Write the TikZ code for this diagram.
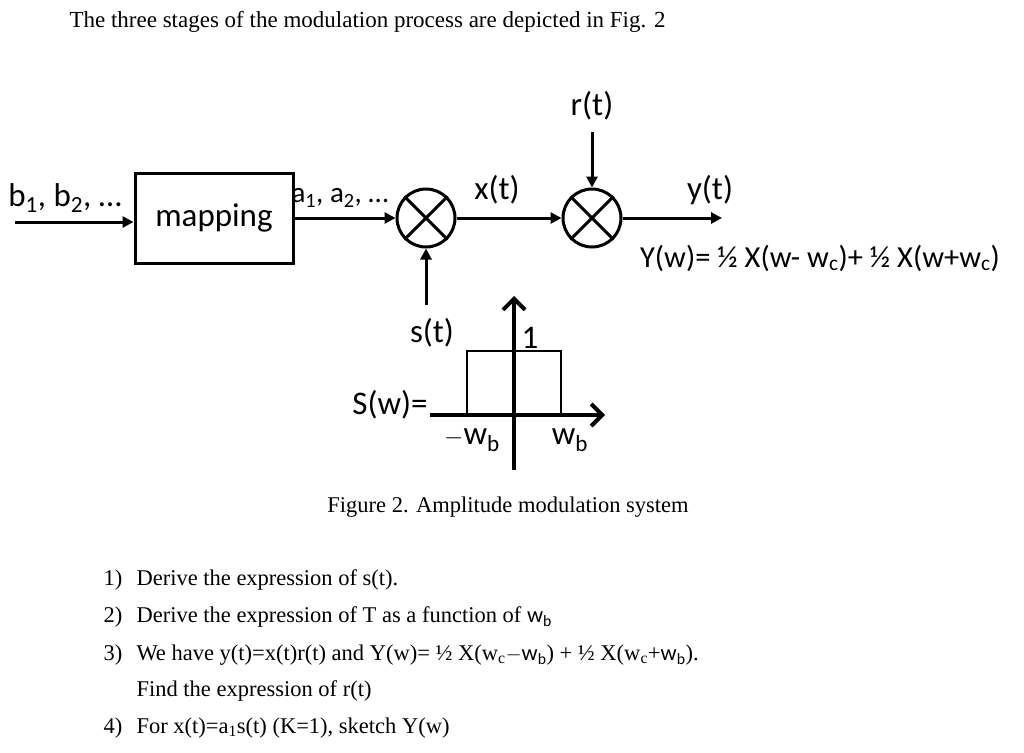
\documentclass[tikz,border=0pt]{standalone}
\usepackage{fontspec}
\setmainfont{Liberation Serif}
\newfontfamily\calfont{Carlito}
\usetikzlibrary{arrows.meta}
\newcommand{\sbs}[1]{\textsubscript{\calfont #1}}
\begin{document}
\begin{tikzpicture}[x=1pt,y=-1pt,
  sig/.style={line width=3pt,-{Triangle[length=11pt,width=11pt]}},
  lab/.style={font=\calfont\fontsize{33}{36}\selectfont},
  ser/.style={font=\fontsize{22.5}{26}\selectfont,anchor=west},
  mul/.style={circle,draw,line width=3pt,minimum size=58pt,inner sep=0pt}]
\useasboundingbox (0,0) rectangle (1024,752);
\node[ser,font=\fontsize{23}{26}\selectfont] (title) at (66,22) {The three stages of the modulation process are depicted in Fig. 2};
\coordinate (bin) at (15,222);
\node[lab] (b) at (65,198) {b\sbs{1}, b\sbs{2}, \dots};
\node[draw,line width=3pt,minimum width=158pt,minimum height=90pt,lab] (map) at (214,218) {mapping};
\node[lab,font=\calfont\fontsize{29}{32}\selectfont] (a) at (340,198) {a\sbs{1}, a\sbs{2}, \dots};
\node[mul] (m1) at (426,218) {};
\draw[line width=3pt] (m1.north east)--(m1.south west) (m1.north west)--(m1.south east);
\node[mul] (m2) at (592,218) {};
\draw[line width=3pt] (m2.north east)--(m2.south west) (m2.north west)--(m2.south east);
\draw[sig] (bin) -- (map.west|-bin);
\draw[sig] (map.east|-m1) -- (m1);
\draw[sig] (m1) -- (m2);
\node[lab] (x) at (497,190) {x(t)};
\node[lab] (r) at (592,106) {r(t)};
\coordinate (rin) at (592,132);
\draw[sig] (rin) -- (m2);
\coordinate (yout) at (722,218);
\draw[sig] (m2) -- (yout);
\node[lab] (y) at (710,190) {y(t)};
\node[lab,font=\calfont\fontsize{30.5}{34}\selectfont] (Y) at (820,258) {Y(w)= ½ X(w- w\sbs{c})+ ½ X(w+w\sbs{c})};
\coordinate (sin) at (426,305);
\draw[sig] (sin) -- (m1);
\node[lab] (s) at (432,333) {s(t)};
\node[lab] (S) at (390,405) {S(w)=};
\coordinate (h0) at (430,415); \coordinate (h1) at (605,415);
\draw[line width=4pt,-{Straight Barb[length=11pt,width=22pt]}] (h0) -- (h1);
\coordinate (v0) at (514,470); \coordinate (v1) at (514,296);
\draw[line width=4pt,-{Straight Barb[length=11pt,width=22pt]}] (v0) -- (v1);
\draw[line width=1.8pt] (467,415) -- (467,351) -- (561,351) -- (561,415);
\node[lab] (one) at (530,338) {1};
\node[lab] (mwb) at (472,440) {$-$w\sbs{b}};
\node[lab] (wb) at (570,440) {w\sbs{b}};
\node[font=\fontsize{22.5}{26}\selectfont] (cap) at (508,507) {Figure 2. Amplitude modulation system};
\foreach \n/\yy/\t in {1/580/{Derive the expression of s(t).},
  2/617/{Derive the expression of T as a function of {\calfont w\sbs{b}}},
  3/655/{We have y(t)=x(t)r(t) and Y(w)= ½ X(w\textsubscript{c}$-${\calfont w\sbs{b}}) + ½ X(w\textsubscript{c}+{\calfont w\sbs{b}}).},
  4/728/{For x(t)=a\textsubscript{1}s(t) (K=1), sketch Y(w)}}
 {\node[ser] (n\n) at (100,\yy) {\n)};
  \node[ser] (t\n) at (133,\yy) {\t};}
\node[ser] (t3b) at (133,691) {Find the expression of r(t)};
\end{tikzpicture}
\end{document}
